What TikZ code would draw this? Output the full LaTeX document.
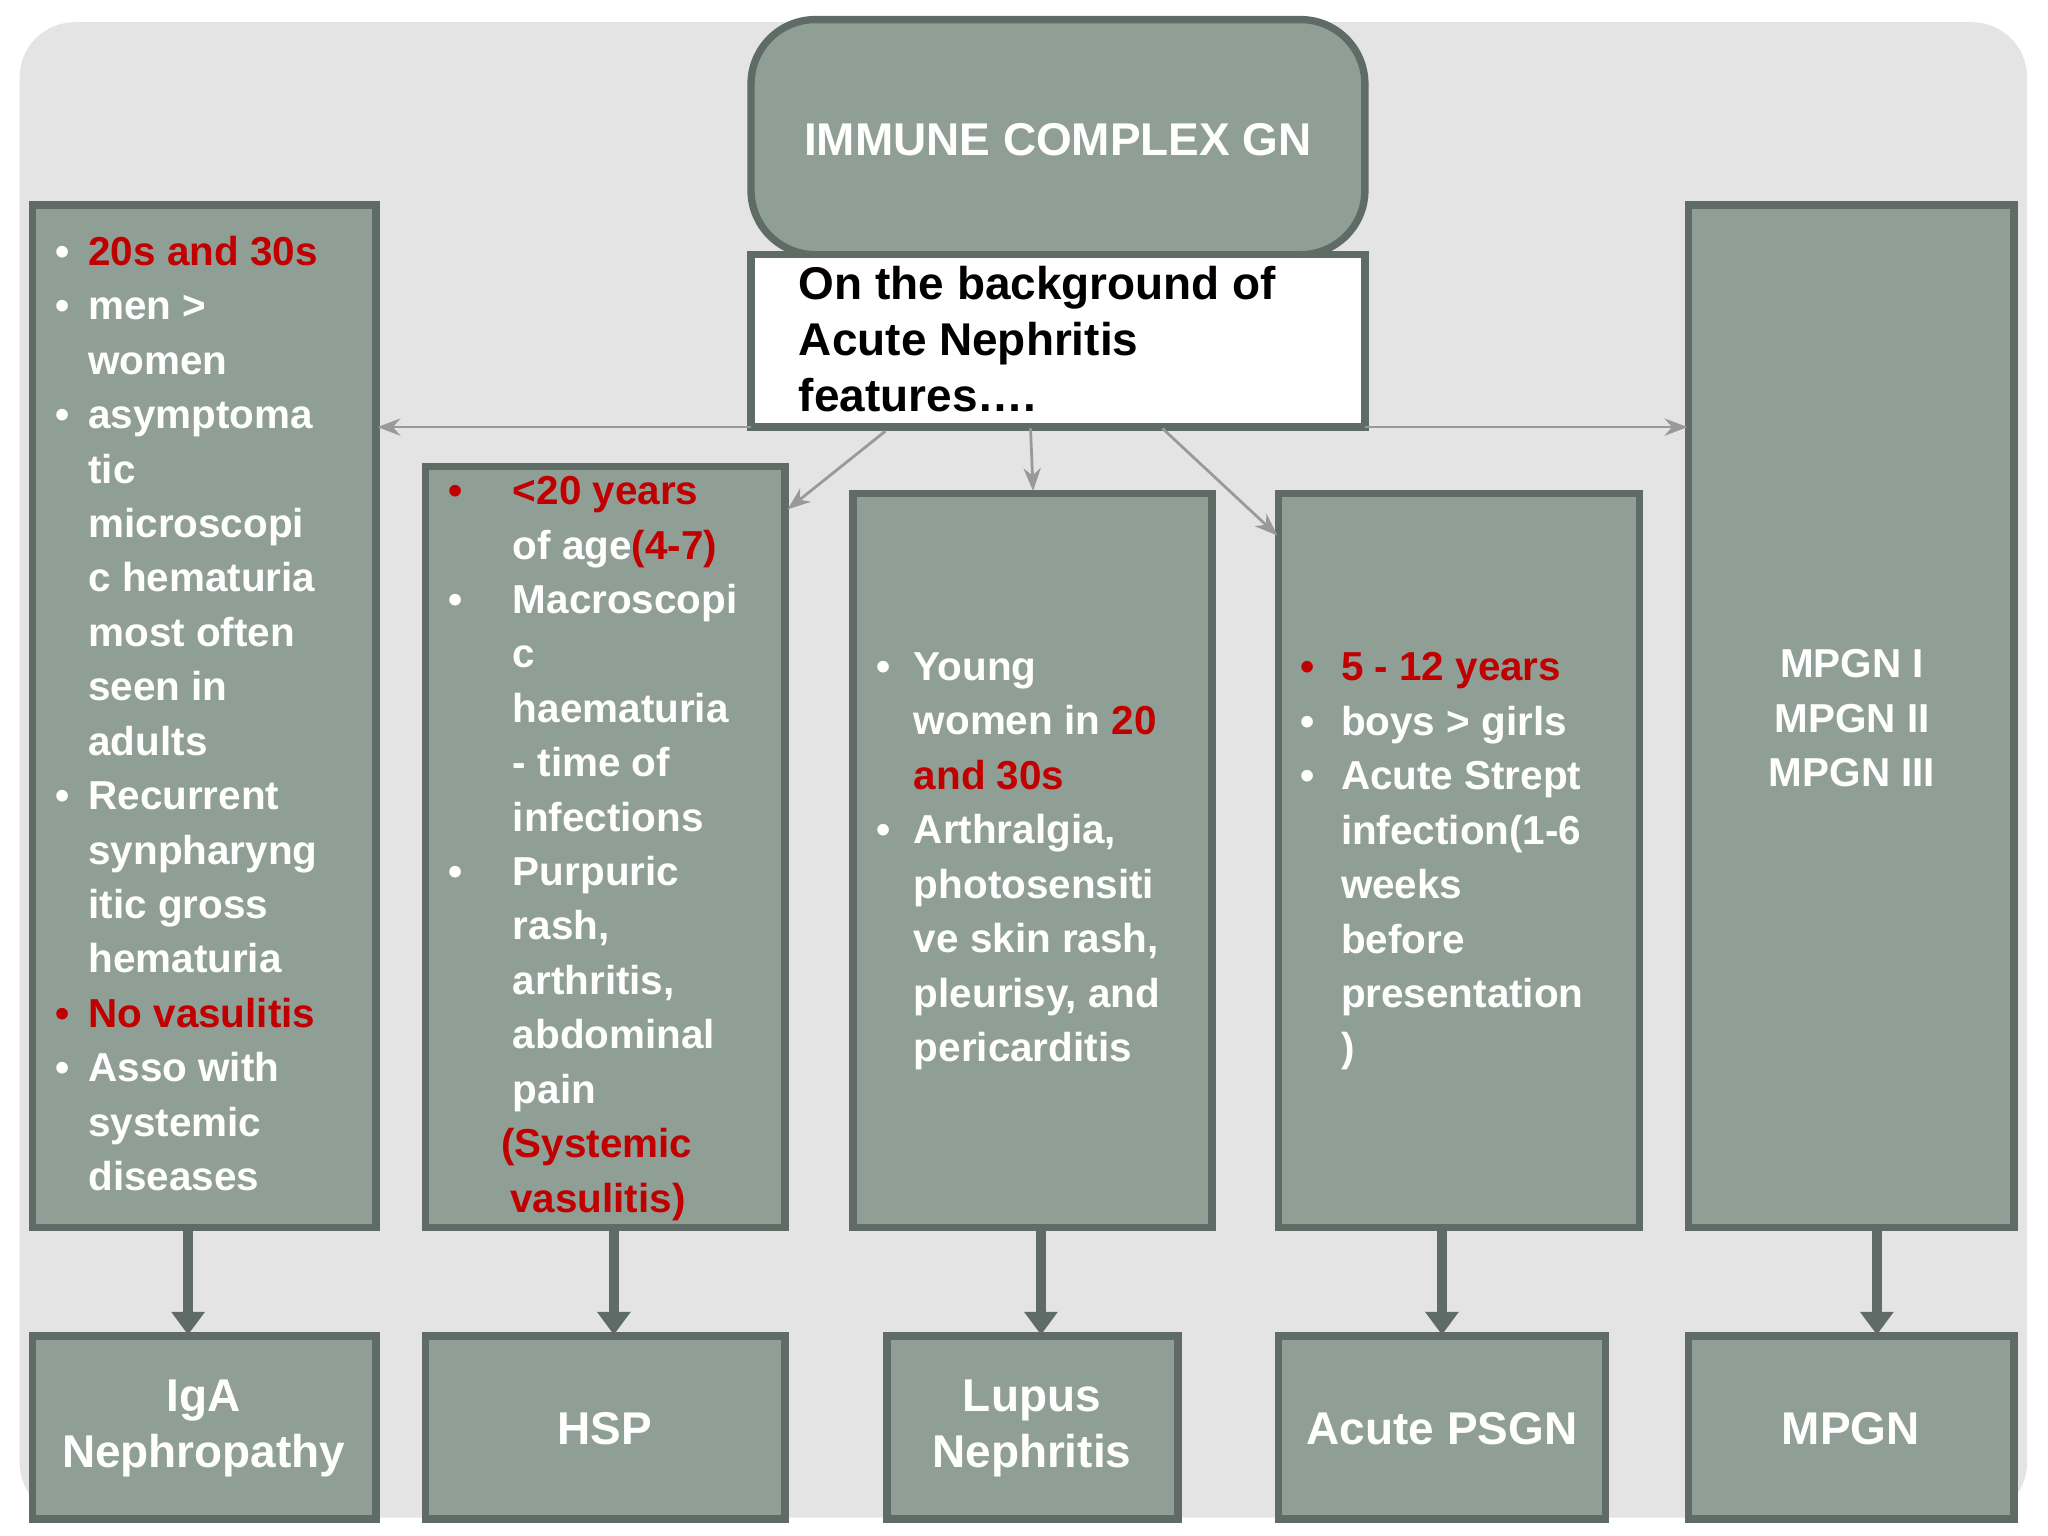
\documentclass[tikz,border=0pt]{standalone}
\usepackage{fontspec}
\setmainfont{Liberation Sans}
\usetikzlibrary{arrows.meta}
\definecolor{boxg}{HTML}{909F95}
\definecolor{edg}{HTML}{5F6B66}
\definecolor{bgg}{HTML}{E4E4E4}
\definecolor{rd}{HTML}{C00000}
\newcommand{\rt}[1]{\textcolor{rd}{#1}}
\newcommand{\bu}[2]{\makebox[#1][l]{\textbullet}}
\newcommand{\ind}[1]{\hspace*{#1}}
\begin{document}
\begin{tikzpicture}[x=0.01cm,y=-0.01cm,
  gbox/.style={draw=edg,line width=1.6pt,fill=boxg},
  txt/.style={anchor=north west,inner sep=0pt,align=left,font=\fontsize{8.8}{11.85}\selectfont\bfseries,text=white},
  btxt/.style={font=\fontsize{10}{12.2}\selectfont\bfseries,text=white,align=center},
  thin/.style={draw=gray!80,line width=0.6pt,-{Stealth[length=5pt]}},
  thick/.style={draw=edg,line width=2.2pt,-{Triangle[length=5pt,width=7pt]}}]
\useasboundingbox (0,0) rectangle (1568,1176);
\fill[bgg,rounded corners=12pt] (15,17) rectangle (1552,1162);
% top
\draw[gbox,rounded corners=14pt] (575,15) rectangle (1045,195);
\node[text=white,font=\fontsize{10}{12}\selectfont\bfseries] (top) at (810,107) {IMMUNE COMPLEX GN};
\draw[draw=edg,line width=1.6pt,fill=white] (575,195) rectangle (1045,327);
\node[txt,text=black,font=\fontsize{10}{12.2}\selectfont\bfseries] (wb) at (611,203) {On the background of\\Acute Nephritis\\features\dots.};
% columns
\draw[gbox] (25,157) rectangle (288,940);
\draw[gbox] (326,357) rectangle (601,940);
\draw[gbox] (653,378) rectangle (928,940);
\draw[gbox] (979,378) rectangle (1255,940);
\draw[gbox] (1293,157) rectangle (1542,940);
% bottom
\foreach \a/\b in {25/288,326/601,679/902,979/1229,1293/1542}
  \draw[gbox] (\a,1023) rectangle (\b,1163);
\node[btxt] (b1) at (156,1094) {IgA\\Nephropathy};
\node[btxt] (b2) at (463,1094) {HSP};
\node[btxt] (b3) at (790,1094) {Lupus\\Nephritis};
\node[btxt] (b4) at (1104,1094) {Acute PSGN};
\node[btxt] (b5) at (1417,1094) {MPGN};
% texts
\node[txt] (t1) at (42,180) {\bu{0.25cm}{}\rt{20s and 30s}\\
\bu{0.25cm}{}men >\\ \ind{0.25cm}women\\
\bu{0.25cm}{}asymptoma\\ \ind{0.25cm}tic\\ \ind{0.25cm}microscopi\\ \ind{0.25cm}c hematuria\\ \ind{0.25cm}most often\\ \ind{0.25cm}seen in\\ \ind{0.25cm}adults\\
\bu{0.25cm}{}Recurrent\\ \ind{0.25cm}synpharyng\\ \ind{0.25cm}itic gross\\ \ind{0.25cm}hematuria\\
\textcolor{rd}{\bu{0.25cm}{}No vasulitis}\\
\bu{0.25cm}{}Asso with\\ \ind{0.25cm}systemic\\ \ind{0.25cm}diseases};
\node[txt] (t2) at (343,364) {\textcolor{rd}{\bu{0.49cm}{}<20 years}\\
\ind{0.49cm}of age\rt{(4-7)}\\
\bu{0.49cm}{}Macroscopi\\ \ind{0.49cm}c\\ \ind{0.49cm}haematuria\\ \ind{0.49cm}- time of\\ \ind{0.49cm}infections\\
\bu{0.49cm}{}Purpuric\\ \ind{0.49cm}rash,\\ \ind{0.49cm}arthritis,\\ \ind{0.49cm}abdominal\\ \ind{0.49cm}pain\\
\ind{0.4cm}\rt{(Systemic}\\ \ind{0.47cm}\rt{vasulitis)}};
\node[txt] (t3) at (670,499) {\bu{0.29cm}{}Young\\ \ind{0.29cm}women in \rt{20}\\ \ind{0.29cm}\rt{and 30s}\\
\bu{0.29cm}{}Arthralgia,\\ \ind{0.29cm}photosensiti\\ \ind{0.29cm}ve skin rash,\\ \ind{0.29cm}pleurisy, and\\ \ind{0.29cm}pericarditis};
\node[txt] (t4) at (995,499) {\textcolor{rd}{\bu{0.31cm}{}5 - 12 years}\\
\bu{0.31cm}{}boys > girls\\
\bu{0.31cm}{}Acute Strept\\ \ind{0.31cm}infection(1-6\\ \ind{0.31cm}weeks\\ \ind{0.31cm}before\\ \ind{0.31cm}presentation\\ \ind{0.31cm})};
\node[font=\fontsize{8.8}{11.85}\selectfont\bfseries,text=white,align=center] (t5) at (1418,550) {MPGN I\\MPGN II\\MPGN III};
% connectors
\coordinate (l1) at (575,327); \coordinate (r1) at (1045,327);
\draw[thin] (l1) -- (289,327);
\draw[thin] (r1) -- (1292,327);
\draw[thin] (678,330) -- (603,390);
\draw[thin] (789,328) -- (791,376);
\draw[thin] (890,328) -- (978,410);
\foreach \x in {144,470,797,1104,1437}
  \draw[thick] (\x,941) -- (\x,1022);
\end{tikzpicture}
\end{document}
